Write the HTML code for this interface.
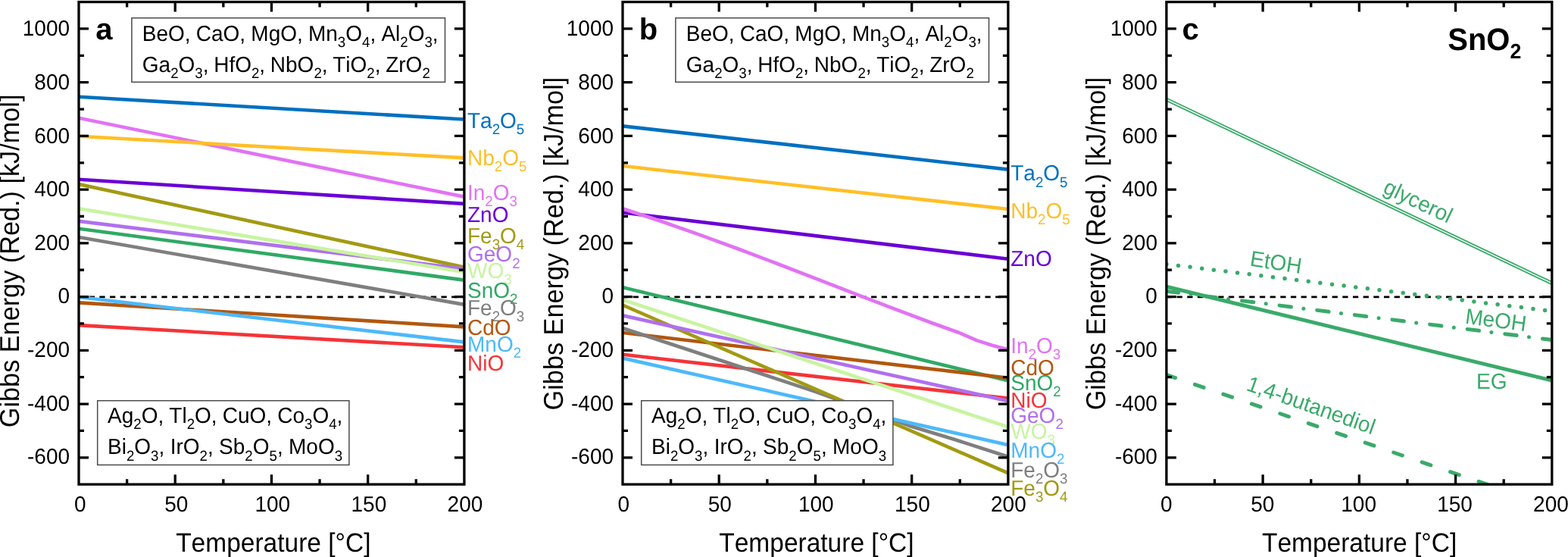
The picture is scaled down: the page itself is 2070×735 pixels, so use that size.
<!DOCTYPE html>
<html><head><meta charset="utf-8"><title>Gibbs Energy plots</title>
<style>
html,body{margin:0;padding:0;background:#fff;width:2070px;height:735px;overflow:hidden}
svg{display:block;font-family:"Liberation Sans",Arial,Helvetica,sans-serif;font-size:28px;fill:#000;font-kerning:none;text-rendering:geometricPrecision}
</style></head>
<body>
<svg width="2070" height="735" viewBox="0 0 2070 735">
<rect width="2070" height="735" fill="#fff"/>
<defs><clipPath id="cpa"><rect x="104.00" y="2.58" width="508.90" height="636.57"/></clipPath><clipPath id="cpb"><rect x="822.00" y="2.58" width="508.90" height="636.57"/></clipPath><clipPath id="cpc"><rect x="1539.90" y="2.58" width="508.90" height="636.57"/></clipPath></defs>
<g clip-path="url(#cpa)"><line x1="104.00" y1="391.90" x2="612.90" y2="391.90" stroke="#000" stroke-width="2.8" stroke-dasharray="7.3 6.37"/><polyline points="104.00,236.70 612.90,268.88" fill="none" stroke="#6A00D4" stroke-width="4.6" stroke-linejoin="round"/>
<polyline points="104.00,155.72 612.90,259.69" fill="none" stroke="#E272F4" stroke-width="4.6" stroke-linejoin="round"/>
<polyline points="104.00,179.76 612.90,208.41" fill="none" stroke="#FFBF28" stroke-width="4.6" stroke-linejoin="round"/>
<polyline points="104.00,127.78 612.90,157.48" fill="none" stroke="#0070C0" stroke-width="4.6" stroke-linejoin="round"/>
<polyline points="104.00,301.77 612.90,369.67" fill="none" stroke="#30A965" stroke-width="4.6" stroke-linejoin="round"/>
<polyline points="104.00,399.38 612.90,431.39" fill="none" stroke="#B2570E" stroke-width="4.6" stroke-linejoin="round"/>
<polyline points="104.00,429.09 612.90,458.26" fill="none" stroke="#F53438" stroke-width="4.6" stroke-linejoin="round"/>
<polyline points="104.00,312.95 612.90,401.86" fill="none" stroke="#7F7F7F" stroke-width="4.6" stroke-linejoin="round"/>
<polyline points="104.00,391.95 612.90,451.37" fill="none" stroke="#4DB9FA" stroke-width="4.6" stroke-linejoin="round"/>
<polyline points="104.00,243.07 612.90,352.70" fill="none" stroke="#A29A12" stroke-width="4.6" stroke-linejoin="round"/>
<polyline points="104.00,291.87 612.90,354.82" fill="none" stroke="#B070EE" stroke-width="4.6" stroke-linejoin="round"/>
<polyline points="104.00,275.25 612.90,359.06" fill="none" stroke="#C8F4A0" stroke-width="4.6" stroke-linejoin="round"/></g>
<rect x="173.90" y="23.7" width="413.60" height="84.60" fill="#fff" stroke="#4a4a4a" stroke-width="1.5"/>
<text transform="translate(187.80,54.10) scale(1,1.03)" word-spacing="-0.6">BeO, CaO, MgO, Mn<tspan font-size="18.67" dy="7.9">3</tspan><tspan dy="-7.9">O</tspan><tspan font-size="18.67" dy="7.9">4</tspan><tspan dy="-7.9">, Al</tspan><tspan font-size="18.67" dy="7.9">2</tspan><tspan dy="-7.9">O</tspan><tspan font-size="18.67" dy="7.9">3</tspan><tspan dy="-7.9">,</tspan></text>
<text transform="translate(187.80,95.20) scale(1,1.03)" word-spacing="-1.1">Ga<tspan font-size="18.67" dy="7.9">2</tspan><tspan dy="-7.9">O</tspan><tspan font-size="18.67" dy="7.9">3</tspan><tspan dy="-7.9">, HfO</tspan><tspan font-size="18.67" dy="7.9">2</tspan><tspan dy="-7.9">, NbO</tspan><tspan font-size="18.67" dy="7.9">2</tspan><tspan dy="-7.9">, TiO</tspan><tspan font-size="18.67" dy="7.9">2</tspan><tspan dy="-7.9">, ZrO</tspan><tspan font-size="18.67" dy="7.9">2</tspan></text>
<rect x="128.70" y="528.7" width="332.20" height="84.80" fill="#fff" stroke="#4a4a4a" stroke-width="1.5"/>
<text transform="translate(142.00,558.30) scale(1,1.03)" word-spacing="-0.65">Ag<tspan font-size="18.67" dy="7.9">2</tspan><tspan dy="-7.9">O, Tl</tspan><tspan font-size="18.67" dy="7.9">2</tspan><tspan dy="-7.9">O, CuO, Co</tspan><tspan font-size="18.67" dy="7.9">3</tspan><tspan dy="-7.9">O</tspan><tspan font-size="18.67" dy="7.9">4</tspan><tspan dy="-7.9">,</tspan></text>
<text transform="translate(142.00,599.40) scale(1,1.03)" word-spacing="-0.4">Bi<tspan font-size="18.67" dy="7.9">2</tspan><tspan dy="-7.9">O</tspan><tspan font-size="18.67" dy="7.9">3</tspan><tspan dy="-7.9">, IrO</tspan><tspan font-size="18.67" dy="7.9">2</tspan><tspan dy="-7.9">, Sb</tspan><tspan font-size="18.67" dy="7.9">2</tspan><tspan dy="-7.9">O</tspan><tspan font-size="18.67" dy="7.9">5</tspan><tspan dy="-7.9">, MoO</tspan><tspan font-size="18.67" dy="7.9">3</tspan></text>
<path d="M104.00,603.79h13M612.90,603.79h-13M104.00,533.06h13M612.90,533.06h-13M104.00,462.33h13M612.90,462.33h-13M104.00,391.60h13M612.90,391.60h-13M104.00,320.87h13M612.90,320.87h-13M104.00,250.14h13M612.90,250.14h-13M104.00,179.41h13M612.90,179.41h-13M104.00,108.68h13M612.90,108.68h-13M104.00,37.95h13M612.90,37.95h-13M104.00,568.43h7M612.90,568.43h-7M104.00,497.70h7M612.90,497.70h-7M104.00,426.97h7M612.90,426.97h-7M104.00,356.24h7M612.90,356.24h-7M104.00,285.50h7M612.90,285.50h-7M104.00,214.78h7M612.90,214.78h-7M104.00,144.05h7M612.90,144.05h-7M104.00,73.31h7M612.90,73.31h-7M231.22,639.15v-13M231.22,2.58v13M358.45,639.15v-13M358.45,2.58v13M485.67,639.15v-13M485.67,2.58v13M167.61,639.15v-7M167.61,2.58v7M294.84,639.15v-7M294.84,2.58v7M422.06,639.15v-7M422.06,2.58v7M549.29,639.15v-7M549.29,2.58v7" stroke="#000" stroke-width="3.3" fill="none"/>
<rect x="104.00" y="2.58" width="508.90" height="636.57" fill="none" stroke="#000" stroke-width="3.3"/>
<text transform="translate(92.05,612.19) scale(1,1.03)" text-anchor="end">-600</text>
<text transform="translate(92.05,541.58) scale(1,1.03)" text-anchor="end">-400</text>
<text transform="translate(92.05,470.97) scale(1,1.03)" text-anchor="end">-200</text>
<text transform="translate(92.05,400.36) scale(1,1.03)" text-anchor="end">0</text>
<text transform="translate(92.05,329.75) scale(1,1.03)" text-anchor="end">200</text>
<text transform="translate(92.05,259.13) scale(1,1.03)" text-anchor="end">400</text>
<text transform="translate(92.05,188.52) scale(1,1.03)" text-anchor="end">600</text>
<text transform="translate(92.05,117.91) scale(1,1.03)" text-anchor="end">800</text>
<text transform="translate(92.05,47.30) scale(1,1.03)" text-anchor="end">1000</text>
<text transform="translate(105.70,674.70) scale(1,1.03)" text-anchor="middle">0</text>
<text transform="translate(232.76,674.70) scale(1,1.03)" text-anchor="middle">50</text>
<text transform="translate(359.83,674.70) scale(1,1.03)" text-anchor="middle">100</text>
<text transform="translate(486.89,674.70) scale(1,1.03)" text-anchor="middle">150</text>
<text transform="translate(613.96,674.70) scale(1,1.03)" text-anchor="middle">200</text>
<text transform="translate(617.00,168.75) scale(1,1.03)" fill="#0070C0">Ta<tspan font-size="18.67" dy="7.9">2</tspan><tspan dy="-7.9">O</tspan><tspan font-size="18.67" dy="7.9">5</tspan></text>
<text transform="translate(617.00,217.60) scale(1,1.03)" fill="#FFBF28">Nb<tspan font-size="18.67" dy="7.9">2</tspan><tspan dy="-7.9">O</tspan><tspan font-size="18.67" dy="7.9">5</tspan></text>
<text transform="translate(617.00,264.10) scale(1,1.03)" fill="#E272F4">In<tspan font-size="18.67" dy="7.9">2</tspan><tspan dy="-7.9">O</tspan><tspan font-size="18.67" dy="7.9">3</tspan></text>
<text transform="translate(617.00,292.60) scale(1,1.03)" fill="#6A00D4">ZnO</text>
<text transform="translate(617.00,321.20) scale(1,1.03)" fill="#A29A12">Fe<tspan font-size="18.67" dy="7.9">3</tspan><tspan dy="-7.9">O</tspan><tspan font-size="18.67" dy="7.9">4</tspan></text>
<text transform="translate(617.00,345.45) scale(1,1.03)" fill="#B070EE">GeO<tspan font-size="18.67" dy="7.9">2</tspan></text>
<text transform="translate(617.00,366.85) scale(1,1.03)" fill="#C8F4A0">WO<tspan font-size="18.67" dy="7.9">3</tspan></text>
<text transform="translate(617.00,393.15) scale(1,1.03)" fill="#30A965">SnO<tspan font-size="18.67" dy="7.9">2</tspan></text>
<text transform="translate(617.00,415.90) scale(1,1.03)" fill="#7F7F7F">Fe<tspan font-size="18.67" dy="7.9">2</tspan><tspan dy="-7.9">O</tspan><tspan font-size="18.67" dy="7.9">3</tspan></text>
<text transform="translate(617.00,442.25) scale(1,1.03)" fill="#B2570E">CdO</text>
<text transform="translate(617.00,463.50) scale(1,1.03)" fill="#4DB9FA">MnO<tspan font-size="18.67" dy="7.9">2</tspan></text>
<text transform="translate(617.00,489.00) scale(1,1.03)" fill="#F53438">NiO</text>
<text transform="translate(232.15,727.90) scale(1,1.05)" font-size="33.5">Temperature [°C]</text>
<text transform="translate(25.10,564.22) rotate(-90) scale(1,1.05)" font-size="34.25">Gibbs Energy (Red.) [kJ/mol]</text>
<text transform="translate(126.20,52.40)" font-size="40" font-weight="bold">a</text>
<g clip-path="url(#cpb)"><line x1="822.00" y1="391.90" x2="1330.90" y2="391.90" stroke="#000" stroke-width="2.8" stroke-dasharray="7.3 6.37"/><polyline points="822.00,280.55 1330.90,341.74" fill="none" stroke="#6A00D4" stroke-width="4.6" stroke-linejoin="round"/>
<polyline points="822.00,275.25 872.89,292.01 923.78,309.80 974.67,328.47 1025.56,347.75 1076.45,367.34 1127.34,387.04 1178.23,406.56 1229.12,425.73 1266.02,438.99 1289.93,449.42 1310.04,455.79 1330.90,461.27" fill="none" stroke="#E272F4" stroke-width="4.6" stroke-linejoin="round"/>
<polyline points="822.00,219.02 1330.90,275.96" fill="none" stroke="#FFBF28" stroke-width="4.6" stroke-linejoin="round"/>
<polyline points="822.00,166.32 1330.90,223.62" fill="none" stroke="#0070C0" stroke-width="4.6" stroke-linejoin="round"/>
<polyline points="822.00,379.22 1330.90,502.29" fill="none" stroke="#30A965" stroke-width="4.6" stroke-linejoin="round"/>
<polyline points="822.00,438.99 1330.90,498.76" fill="none" stroke="#B2570E" stroke-width="4.6" stroke-linejoin="round"/>
<polyline points="822.00,467.81 1330.90,525.63" fill="none" stroke="#F53438" stroke-width="4.6" stroke-linejoin="round"/>
<polyline points="822.00,432.98 1076.45,516.79 1200.11,561.71 1259.65,579.74 1330.90,602.73" fill="none" stroke="#7F7F7F" stroke-width="4.6" stroke-linejoin="round"/>
<polyline points="822.00,472.59 1330.90,587.17" fill="none" stroke="#4DB9FA" stroke-width="4.6" stroke-linejoin="round"/>
<polyline points="822.00,402.56 1330.90,624.30" fill="none" stroke="#A29A12" stroke-width="4.6" stroke-linejoin="round"/>
<polyline points="822.00,416.36 1330.90,529.17" fill="none" stroke="#B070EE" stroke-width="4.6" stroke-linejoin="round"/>
<polyline points="822.00,395.49 1330.90,563.47" fill="none" stroke="#C8F4A0" stroke-width="4.6" stroke-linejoin="round"/></g>
<rect x="891.90" y="23.7" width="413.60" height="84.60" fill="#fff" stroke="#4a4a4a" stroke-width="1.5"/>
<text transform="translate(905.80,54.10) scale(1,1.03)" word-spacing="-0.6">BeO, CaO, MgO, Mn<tspan font-size="18.67" dy="7.9">3</tspan><tspan dy="-7.9">O</tspan><tspan font-size="18.67" dy="7.9">4</tspan><tspan dy="-7.9">, Al</tspan><tspan font-size="18.67" dy="7.9">2</tspan><tspan dy="-7.9">O</tspan><tspan font-size="18.67" dy="7.9">3</tspan><tspan dy="-7.9">,</tspan></text>
<text transform="translate(905.80,95.20) scale(1,1.03)" word-spacing="-1.1">Ga<tspan font-size="18.67" dy="7.9">2</tspan><tspan dy="-7.9">O</tspan><tspan font-size="18.67" dy="7.9">3</tspan><tspan dy="-7.9">, HfO</tspan><tspan font-size="18.67" dy="7.9">2</tspan><tspan dy="-7.9">, NbO</tspan><tspan font-size="18.67" dy="7.9">2</tspan><tspan dy="-7.9">, TiO</tspan><tspan font-size="18.67" dy="7.9">2</tspan><tspan dy="-7.9">, ZrO</tspan><tspan font-size="18.67" dy="7.9">2</tspan></text>
<rect x="846.70" y="528.7" width="332.20" height="84.80" fill="#fff" stroke="#4a4a4a" stroke-width="1.5"/>
<text transform="translate(860.00,558.30) scale(1,1.03)" word-spacing="-0.65">Ag<tspan font-size="18.67" dy="7.9">2</tspan><tspan dy="-7.9">O, Tl</tspan><tspan font-size="18.67" dy="7.9">2</tspan><tspan dy="-7.9">O, CuO, Co</tspan><tspan font-size="18.67" dy="7.9">3</tspan><tspan dy="-7.9">O</tspan><tspan font-size="18.67" dy="7.9">4</tspan><tspan dy="-7.9">,</tspan></text>
<text transform="translate(860.00,599.40) scale(1,1.03)" word-spacing="-0.4">Bi<tspan font-size="18.67" dy="7.9">2</tspan><tspan dy="-7.9">O</tspan><tspan font-size="18.67" dy="7.9">3</tspan><tspan dy="-7.9">, IrO</tspan><tspan font-size="18.67" dy="7.9">2</tspan><tspan dy="-7.9">, Sb</tspan><tspan font-size="18.67" dy="7.9">2</tspan><tspan dy="-7.9">O</tspan><tspan font-size="18.67" dy="7.9">5</tspan><tspan dy="-7.9">, MoO</tspan><tspan font-size="18.67" dy="7.9">3</tspan></text>
<path d="M822.00,603.79h13M1330.90,603.79h-13M822.00,533.06h13M1330.90,533.06h-13M822.00,462.33h13M1330.90,462.33h-13M822.00,391.60h13M1330.90,391.60h-13M822.00,320.87h13M1330.90,320.87h-13M822.00,250.14h13M1330.90,250.14h-13M822.00,179.41h13M1330.90,179.41h-13M822.00,108.68h13M1330.90,108.68h-13M822.00,37.95h13M1330.90,37.95h-13M822.00,568.43h7M1330.90,568.43h-7M822.00,497.70h7M1330.90,497.70h-7M822.00,426.97h7M1330.90,426.97h-7M822.00,356.24h7M1330.90,356.24h-7M822.00,285.50h7M1330.90,285.50h-7M822.00,214.78h7M1330.90,214.78h-7M822.00,144.05h7M1330.90,144.05h-7M822.00,73.31h7M1330.90,73.31h-7M949.23,639.15v-13M949.23,2.58v13M1076.45,639.15v-13M1076.45,2.58v13M1203.67,639.15v-13M1203.67,2.58v13M885.61,639.15v-7M885.61,2.58v7M1012.84,639.15v-7M1012.84,2.58v7M1140.06,639.15v-7M1140.06,2.58v7M1267.29,639.15v-7M1267.29,2.58v7" stroke="#000" stroke-width="3.3" fill="none"/>
<rect x="822.00" y="2.58" width="508.90" height="636.57" fill="none" stroke="#000" stroke-width="3.3"/>
<text transform="translate(810.05,612.19) scale(1,1.03)" text-anchor="end">-600</text>
<text transform="translate(810.05,541.58) scale(1,1.03)" text-anchor="end">-400</text>
<text transform="translate(810.05,470.97) scale(1,1.03)" text-anchor="end">-200</text>
<text transform="translate(810.05,400.36) scale(1,1.03)" text-anchor="end">0</text>
<text transform="translate(810.05,329.75) scale(1,1.03)" text-anchor="end">200</text>
<text transform="translate(810.05,259.13) scale(1,1.03)" text-anchor="end">400</text>
<text transform="translate(810.05,188.52) scale(1,1.03)" text-anchor="end">600</text>
<text transform="translate(810.05,117.91) scale(1,1.03)" text-anchor="end">800</text>
<text transform="translate(810.05,47.30) scale(1,1.03)" text-anchor="end">1000</text>
<text transform="translate(823.30,674.70) scale(1,1.03)" text-anchor="middle">0</text>
<text transform="translate(950.31,674.70) scale(1,1.03)" text-anchor="middle">50</text>
<text transform="translate(1077.33,674.70) scale(1,1.03)" text-anchor="middle">100</text>
<text transform="translate(1204.34,674.70) scale(1,1.03)" text-anchor="middle">150</text>
<text transform="translate(1331.35,674.70) scale(1,1.03)" text-anchor="middle">200</text>
<text transform="translate(1334.25,238.40) scale(1,1.03)" fill="#0070C0">Ta<tspan font-size="18.67" dy="7.9">2</tspan><tspan dy="-7.9">O</tspan><tspan font-size="18.67" dy="7.9">5</tspan></text>
<text transform="translate(1334.25,288.00) scale(1,1.03)" fill="#FFBF28">Nb<tspan font-size="18.67" dy="7.9">2</tspan><tspan dy="-7.9">O</tspan><tspan font-size="18.67" dy="7.9">5</tspan></text>
<text transform="translate(1334.25,351.40) scale(1,1.03)" fill="#6A00D4">ZnO</text>
<text transform="translate(1334.25,466.00) scale(1,1.03)" fill="#E272F4">In<tspan font-size="18.67" dy="7.9">2</tspan><tspan dy="-7.9">O</tspan><tspan font-size="18.67" dy="7.9">3</tspan></text>
<text transform="translate(1334.25,494.80) scale(1,1.03)" fill="#B2570E">CdO</text>
<text transform="translate(1334.25,515.20) scale(1,1.03)" fill="#30A965">SnO<tspan font-size="18.67" dy="7.9">2</tspan></text>
<text transform="translate(1334.25,538.00) scale(1,1.03)" fill="#F53438">NiO</text>
<text transform="translate(1334.25,558.00) scale(1,1.03)" fill="#B070EE">GeO<tspan font-size="18.67" dy="7.9">2</tspan></text>
<text transform="translate(1334.25,578.60) scale(1,1.03)" fill="#C8F4A0">WO<tspan font-size="18.67" dy="7.9">3</tspan></text>
<text transform="translate(1334.25,603.60) scale(1,1.03)" fill="#4DB9FA">MnO<tspan font-size="18.67" dy="7.9">2</tspan></text>
<text transform="translate(1334.25,629.80) scale(1,1.03)" fill="#7F7F7F">Fe<tspan font-size="18.67" dy="7.9">2</tspan><tspan dy="-7.9">O</tspan><tspan font-size="18.67" dy="7.9">3</tspan></text>
<text transform="translate(1334.25,653.60) scale(1,1.03)" fill="#A29A12">Fe<tspan font-size="18.67" dy="7.9">3</tspan><tspan dy="-7.9">O</tspan><tspan font-size="18.67" dy="7.9">4</tspan></text>
<text transform="translate(949.25,727.90) scale(1,1.05)" font-size="33.5">Temperature [°C]</text>
<text transform="translate(742.70,541.42) rotate(-90) scale(1,1.05)" font-size="34.25">Gibbs Energy (Red.) [kJ/mol]</text>
<text transform="translate(843.80,52.40)" font-size="40" font-weight="bold">b</text>
<g clip-path="url(#cpc)"><line x1="1539.90" y1="391.90" x2="2048.80" y2="391.90" stroke="#000" stroke-width="2.8" stroke-dasharray="7.3 6.37"/><line x1="1539.90" y1="131.14" x2="2048.80" y2="373.71" stroke="#3AAA6A" stroke-width="5.0"/>
<line x1="1539.90" y1="131.14" x2="2048.80" y2="373.71" stroke="#fff" stroke-width="1.3"/>
<line x1="1539.90" y1="348.53" x2="2048.80" y2="410.52" stroke="#3AAA6A" stroke-width="5.5" stroke-linecap="round" stroke-dasharray="0 15.73"/>
<line x1="1539.90" y1="384.31" x2="2048.80" y2="448.47" stroke="#3AAA6A" stroke-width="5" stroke-linecap="round" stroke-dasharray="15.5 16.5 0 18" stroke-dashoffset="-0.4"/>
<line x1="1539.90" y1="378.27" x2="2048.80" y2="502.12" stroke="#3AAA6A" stroke-width="5"/>
<line x1="1539.90" y1="494.51" x2="2048.80" y2="668.51" stroke="#3AAA6A" stroke-width="5" stroke-linecap="round" stroke-dasharray="12.4 27.2"/></g>
<path d="M1539.90,603.79h13M2048.80,603.79h-13M1539.90,533.06h13M2048.80,533.06h-13M1539.90,462.33h13M2048.80,462.33h-13M1539.90,391.60h13M2048.80,391.60h-13M1539.90,320.87h13M2048.80,320.87h-13M1539.90,250.14h13M2048.80,250.14h-13M1539.90,179.41h13M2048.80,179.41h-13M1539.90,108.68h13M2048.80,108.68h-13M1539.90,37.95h13M2048.80,37.95h-13M1539.90,568.43h7M2048.80,568.43h-7M1539.90,497.70h7M2048.80,497.70h-7M1539.90,426.97h7M2048.80,426.97h-7M1539.90,356.24h7M2048.80,356.24h-7M1539.90,285.50h7M2048.80,285.50h-7M1539.90,214.78h7M2048.80,214.78h-7M1539.90,144.05h7M2048.80,144.05h-7M1539.90,73.31h7M2048.80,73.31h-7M1667.12,639.15v-13M1667.12,2.58v13M1794.35,639.15v-13M1794.35,2.58v13M1921.58,639.15v-13M1921.58,2.58v13M1603.51,639.15v-7M1603.51,2.58v7M1730.74,639.15v-7M1730.74,2.58v7M1857.96,639.15v-7M1857.96,2.58v7M1985.19,639.15v-7M1985.19,2.58v7" stroke="#000" stroke-width="3.3" fill="none"/>
<rect x="1539.90" y="2.58" width="508.90" height="636.57" fill="none" stroke="#000" stroke-width="3.3"/>
<text transform="translate(1527.95,612.19) scale(1,1.03)" text-anchor="end">-600</text>
<text transform="translate(1527.95,541.58) scale(1,1.03)" text-anchor="end">-400</text>
<text transform="translate(1527.95,470.97) scale(1,1.03)" text-anchor="end">-200</text>
<text transform="translate(1527.95,400.36) scale(1,1.03)" text-anchor="end">0</text>
<text transform="translate(1527.95,329.75) scale(1,1.03)" text-anchor="end">200</text>
<text transform="translate(1527.95,259.13) scale(1,1.03)" text-anchor="end">400</text>
<text transform="translate(1527.95,188.52) scale(1,1.03)" text-anchor="end">600</text>
<text transform="translate(1527.95,117.91) scale(1,1.03)" text-anchor="end">800</text>
<text transform="translate(1527.95,47.30) scale(1,1.03)" text-anchor="end">1000</text>
<text transform="translate(1539.80,674.70) scale(1,1.03)" text-anchor="middle">0</text>
<text transform="translate(1666.71,674.70) scale(1,1.03)" text-anchor="middle">50</text>
<text transform="translate(1793.63,674.70) scale(1,1.03)" text-anchor="middle">100</text>
<text transform="translate(1920.54,674.70) scale(1,1.03)" text-anchor="middle">150</text>
<text transform="translate(2047.45,674.70) scale(1,1.03)" text-anchor="middle">200</text>
<text transform="translate(1824.50,253.50) rotate(25.5) scale(1,1.03)" fill="#3AAA6A">glycerol</text>
<text transform="translate(1649.20,350.60) rotate(8.7) scale(1,1.03)" fill="#3AAA6A">EtOH</text>
<text transform="translate(1933.50,426.70) rotate(7.5) scale(1,1.03)" fill="#3AAA6A">MeOH</text>
<text transform="translate(1949.00,512.60) scale(1,1.03)" fill="#3AAA6A">EG</text>
<text transform="translate(1644.00,514.50) rotate(19.4) scale(1,1.03)" fill="#3AAA6A">1,4-butanediol</text>
<text transform="translate(1911.25,66.30) scale(1,1.03)" font-size="40" font-weight="bold">SnO<tspan font-size="26.70" dy="10.6">2</tspan></text>
<text transform="translate(1665.95,727.90) scale(1,1.05)" font-size="33.5">Temperature [°C]</text>
<text transform="translate(1459.40,541.32) rotate(-90) scale(1,1.05)" font-size="34.25">Gibbs Energy (Red.) [kJ/mol]</text>
<text transform="translate(1560.50,52.40)" font-size="40" font-weight="bold">c</text>
</svg>
</body></html>
